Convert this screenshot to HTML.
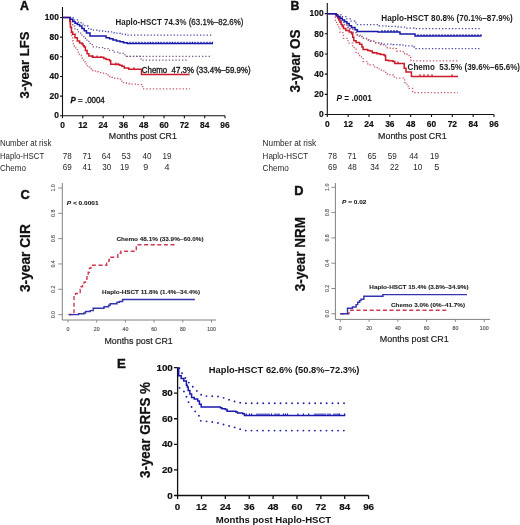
<!DOCTYPE html>
<html><head><meta charset="utf-8"><title>Figure</title>
<style>html,body{margin:0;padding:0;background:#fff;}svg{display:block;}</style>
</head><body>
<svg width="520" height="525" viewBox="0 0 520 525" font-family="'Liberation Sans', Arial, sans-serif">
<rect width="520" height="525" fill="#fff"/>
<text x="20.1" y="9.5" font-size="12.3" font-weight="bold" text-anchor="start" fill="#111" stroke="#111" stroke-width="0.45">A</text>
<text transform="translate(29,98.4) rotate(-90)" x="0" y="0" font-size="13.6" font-weight="bold" fill="#111" textLength="66.9" lengthAdjust="spacingAndGlyphs" stroke="#111" stroke-width="0.25">3-year LFS</text>
<path d="M62.5,7V115.8H225" fill="none" stroke="#111" stroke-width="1.1"/>
<path d="M60,115.8H62.5M60,96.14H62.5M60,76.48H62.5M60,56.82H62.5M60,37.16H62.5M60,17.5H62.5M62.5,115.8V118.3M82.81,115.8V118.3M103.12,115.8V118.3M123.44,115.8V118.3M143.75,115.8V118.3M164.06,115.8V118.3M184.38,115.8V118.3M204.69,115.8V118.3M225,115.8V118.3" fill="none" stroke="#111" stroke-width="1.1"/>
<text x="58.8" y="118.49" font-size="8.4" font-weight="bold" text-anchor="end" fill="#111" stroke="#111" stroke-width="0.2">0</text>
<text x="58.8" y="98.83" font-size="8.4" font-weight="bold" text-anchor="end" fill="#111" stroke="#111" stroke-width="0.2">20</text>
<text x="58.8" y="79.17" font-size="8.4" font-weight="bold" text-anchor="end" fill="#111" stroke="#111" stroke-width="0.2">40</text>
<text x="58.8" y="59.51" font-size="8.4" font-weight="bold" text-anchor="end" fill="#111" stroke="#111" stroke-width="0.2">60</text>
<text x="58.8" y="39.85" font-size="8.4" font-weight="bold" text-anchor="end" fill="#111" stroke="#111" stroke-width="0.2">80</text>
<text x="58.8" y="20.19" font-size="8.4" font-weight="bold" text-anchor="end" fill="#111" stroke="#111" stroke-width="0.2">100</text>
<text x="62.5" y="127.9" font-size="8.4" font-weight="bold" text-anchor="middle" fill="#111" stroke="#111" stroke-width="0.2">0</text>
<text x="82.81" y="127.9" font-size="8.4" font-weight="bold" text-anchor="middle" fill="#111" stroke="#111" stroke-width="0.2">12</text>
<text x="103.12" y="127.9" font-size="8.4" font-weight="bold" text-anchor="middle" fill="#111" stroke="#111" stroke-width="0.2">24</text>
<text x="123.44" y="127.9" font-size="8.4" font-weight="bold" text-anchor="middle" fill="#111" stroke="#111" stroke-width="0.2">36</text>
<text x="143.75" y="127.9" font-size="8.4" font-weight="bold" text-anchor="middle" fill="#111" stroke="#111" stroke-width="0.2">48</text>
<text x="164.06" y="127.9" font-size="8.4" font-weight="bold" text-anchor="middle" fill="#111" stroke="#111" stroke-width="0.2">60</text>
<text x="184.38" y="127.9" font-size="8.4" font-weight="bold" text-anchor="middle" fill="#111" stroke="#111" stroke-width="0.2">72</text>
<text x="204.69" y="127.9" font-size="8.4" font-weight="bold" text-anchor="middle" fill="#111" stroke="#111" stroke-width="0.2">84</text>
<text x="225" y="127.9" font-size="8.4" font-weight="bold" text-anchor="middle" fill="#111" stroke="#111" stroke-width="0.2">96</text>
<text x="108.8" y="138.6" font-size="9.5" font-weight="normal" text-anchor="start" fill="#222" textLength="68.1" lengthAdjust="spacingAndGlyphs" stroke="#222" stroke-width="0.2">Months post CR1</text>
<path d="M69.2,17.5H73.8V19.8H78.5V22.7H83.1V25.6H87.7V28.5H91.1V30.2H96.9V30.8H102.7V31.3H108.4V31.9H114.2V33.1H120V34.2H125.4V35.2H211.5" fill="none" stroke="#4a4aa6" stroke-width="1.25" stroke-dasharray="1.3 2"/>
<path d="M69.2,17.5H70.4V21.5H72.7V26.1H75V29.6H78.5V33.1H81.9V36.5H85.4V40H88.8V43.4H92.3V46.9H98.1V47.5H103.8V48.6H109.6V50.4H114.2V52.1H120V53.3H123.5V54.8H126.5V56.3H211.5" fill="none" stroke="#7a5a8a" stroke-width="1.25" stroke-dasharray="1.3 2"/>
<path d="M126.5,56.3H141V60.2H188" fill="none" stroke="#7a5a8a" stroke-width="1.25" stroke-dasharray="1.3 2"/>
<path d="M69.2,17.5H69.6V21.5H70V25.4H70.6V29.2H71.2V33.1H71.8V37H72.5V40.8H73.4V43.6H74.4V46.5H75.8V49H77.3V51.3H78.2V53.3H79.2V55.2H81.2V58.1H82.6V60H84V61.9H85.4V63.8H86.9V65.8H88.3V67.2H89.8V68.7H91.2V70H92.7V71.2H95.6V71.9H98.5V72.5H101.4V73H104.2V73.5H106.1V74.9H108V76.3H110V76.8H111.9V77.3H114.8V78.3H117.7V79.2H120.6V81H123.5V82.7H126.4V83.4H129.2V84H136.9V84.6H141.7V85H142.7V88.9H190" fill="none" stroke="#c45a6a" stroke-width="1.25" stroke-dasharray="1.3 2"/>
<path d="M62.5,17.5H69.2H69.8V21.5H70.4V27.3H71.5V31.9H72.7V34.2H75V37.7H77.3V41.1H79.6V42.9H81.9V44H83.1V45.8H84.2V46.9H85.4V50.4H87.1V53.8H88.8V56.1H92.3V57.3H103.8V58.4H106.1V59.6H109.6V60.8H110.7V64.2H115V64.6H119.6V65.2H121.9V66.3H124.2V68H128.8V69.2H141.5V74.5H189.6" fill="none" stroke="#cc1a2a" stroke-width="1.5"/>
<path d="M62.5,17.5H69.2H70.4V19.2H72.7V21.5H75V23.3H77.3V24.4H79.6V26.1H81.9V28.5H84.2V30.8H86.5V33.1H90V36H103.8H106.1V37.7H109.6V38.8H113V40H116.5V41.1H120V41.7H123.5V42.7H127.3V43.6H213" fill="none" stroke="#1818a8" stroke-width="1.5"/>
<path d="M130,43.6V41.8M133,43.6V41.8M136,43.6V41.8M139,43.6V41.8M142,43.6V41.8M145,43.6V41.8M148,43.6V41.8M150.5,43.6V41.8M153,43.6V41.8M156,43.6V41.8M158.5,43.6V41.8M161,43.6V41.8M164,43.6V41.8M167,43.6V41.8M170,43.6V41.8M172.5,43.6V41.8M175,43.6V41.8M178,43.6V41.8M181,43.6V41.8M184,43.6V41.8M187,43.6V41.8M190,43.6V41.8M192.5,43.6V41.8M195,43.6V41.8M198,43.6V41.8M201,43.6V41.8M204,43.6V41.8M207,43.6V41.8M210,43.6V41.8M212.5,43.6V41.8" stroke="#1818a8" stroke-width="1.2" fill="none"/>
<path d="M93,57.3V55.3M97,57.5V55.5M101,57.9V55.9M116,64.6V62.6M118,64.9V62.9M134,69.2V67.2" stroke="#cc1a2a" stroke-width="1.2" fill="none"/>
<text x="115.6" y="25.4" font-size="8.3" font-weight="bold" text-anchor="start" fill="#1c1c1c" textLength="127.8" lengthAdjust="spacingAndGlyphs" >Haplo-HSCT 74.3% <tspan font-weight="normal" stroke="#222" stroke-width="0.3">(63.1%–82.6%)</tspan></text>
<text x="141.8" y="73" font-size="8.3" font-weight="normal" text-anchor="start" fill="#1c1c1c" textLength="108.8" lengthAdjust="spacingAndGlyphs" stroke="#1c1c1c" stroke-width="0.35">Chemo&#160; 47.3% (33.4%–59.9%)</text>
<text x="70.6" y="102.9" font-size="8.2" font-weight="normal" text-anchor="start" fill="#111" textLength="34.2" lengthAdjust="spacingAndGlyphs" stroke="#111" stroke-width="0.3"><tspan font-style="italic" font-weight="bold">P</tspan> = .0004</text>
<text x="-0.1" y="146.2" font-size="8.7" font-weight="normal" text-anchor="start" fill="#282828" textLength="51.5" lengthAdjust="spacingAndGlyphs" >Number at risk</text>
<text x="-0.1" y="159" font-size="8.7" font-weight="normal" text-anchor="start" fill="#282828" textLength="44.3" lengthAdjust="spacingAndGlyphs" >Haplo-HSCT</text>
<text x="-0.1" y="171.2" font-size="8.7" font-weight="normal" text-anchor="start" fill="#282828" textLength="26" lengthAdjust="spacingAndGlyphs" >Chemo</text>
<text x="62.7" y="158.5" font-size="8.6" font-weight="normal" text-anchor="start" fill="#282828" textLength="9" lengthAdjust="spacingAndGlyphs" >78</text>
<text x="82.4" y="158.5" font-size="8.6" font-weight="normal" text-anchor="start" fill="#282828" textLength="9" lengthAdjust="spacingAndGlyphs" >71</text>
<text x="101.8" y="158.5" font-size="8.6" font-weight="normal" text-anchor="start" fill="#282828" textLength="9" lengthAdjust="spacingAndGlyphs" >64</text>
<text x="121.7" y="158.5" font-size="8.6" font-weight="normal" text-anchor="start" fill="#282828" textLength="9" lengthAdjust="spacingAndGlyphs" >53</text>
<text x="142.6" y="158.5" font-size="8.6" font-weight="normal" text-anchor="start" fill="#282828" textLength="9" lengthAdjust="spacingAndGlyphs" >40</text>
<text x="162.6" y="158.5" font-size="8.6" font-weight="normal" text-anchor="start" fill="#282828" textLength="9" lengthAdjust="spacingAndGlyphs" >19</text>
<text x="62.7" y="170.4" font-size="8.6" font-weight="normal" text-anchor="start" fill="#282828" textLength="9" lengthAdjust="spacingAndGlyphs" >69</text>
<text x="82.4" y="170.4" font-size="8.6" font-weight="normal" text-anchor="start" fill="#282828" textLength="9" lengthAdjust="spacingAndGlyphs" >41</text>
<text x="102.3" y="170.4" font-size="8.6" font-weight="normal" text-anchor="start" fill="#282828" textLength="9" lengthAdjust="spacingAndGlyphs" >30</text>
<text x="120" y="170.4" font-size="8.6" font-weight="normal" text-anchor="start" fill="#282828" textLength="9" lengthAdjust="spacingAndGlyphs" >19</text>
<text x="143.2" y="170.4" font-size="8.6" font-weight="normal" text-anchor="start" fill="#282828" textLength="5" lengthAdjust="spacingAndGlyphs" >9</text>
<text x="164.5" y="170.4" font-size="8.6" font-weight="normal" text-anchor="start" fill="#282828" textLength="5" lengthAdjust="spacingAndGlyphs" >4</text>
<text x="290.5" y="9.5" font-size="12.3" font-weight="bold" text-anchor="start" fill="#111" stroke="#111" stroke-width="0.45">B</text>
<text transform="translate(300,92.6) rotate(-90)" x="0" y="0" font-size="13.8" font-weight="bold" fill="#111" textLength="63.2" lengthAdjust="spacingAndGlyphs" stroke="#111" stroke-width="0.25">3-year OS</text>
<path d="M327.3,3V114.5H494" fill="none" stroke="#111" stroke-width="1.1"/>
<path d="M324.8,114.5H327.3M324.8,94.33H327.3M324.8,74.16H327.3M324.8,53.99H327.3M324.8,33.82H327.3M324.8,13.65H327.3M327.3,114.5V117M348.14,114.5V117M368.98,114.5V117M389.81,114.5V117M410.65,114.5V117M431.49,114.5V117M452.32,114.5V117M473.16,114.5V117M494,114.5V117" fill="none" stroke="#111" stroke-width="1.1"/>
<text x="323.6" y="117.19" font-size="8.4" font-weight="bold" text-anchor="end" fill="#111" stroke="#111" stroke-width="0.2">0</text>
<text x="323.6" y="97.02" font-size="8.4" font-weight="bold" text-anchor="end" fill="#111" stroke="#111" stroke-width="0.2">20</text>
<text x="323.6" y="76.85" font-size="8.4" font-weight="bold" text-anchor="end" fill="#111" stroke="#111" stroke-width="0.2">40</text>
<text x="323.6" y="56.68" font-size="8.4" font-weight="bold" text-anchor="end" fill="#111" stroke="#111" stroke-width="0.2">60</text>
<text x="323.6" y="36.51" font-size="8.4" font-weight="bold" text-anchor="end" fill="#111" stroke="#111" stroke-width="0.2">80</text>
<text x="323.6" y="16.34" font-size="8.4" font-weight="bold" text-anchor="end" fill="#111" stroke="#111" stroke-width="0.2">100</text>
<text x="327.3" y="127.2" font-size="8.4" font-weight="bold" text-anchor="middle" fill="#111" stroke="#111" stroke-width="0.2">0</text>
<text x="348.14" y="127.2" font-size="8.4" font-weight="bold" text-anchor="middle" fill="#111" stroke="#111" stroke-width="0.2">12</text>
<text x="368.98" y="127.2" font-size="8.4" font-weight="bold" text-anchor="middle" fill="#111" stroke="#111" stroke-width="0.2">24</text>
<text x="389.81" y="127.2" font-size="8.4" font-weight="bold" text-anchor="middle" fill="#111" stroke="#111" stroke-width="0.2">36</text>
<text x="410.65" y="127.2" font-size="8.4" font-weight="bold" text-anchor="middle" fill="#111" stroke="#111" stroke-width="0.2">48</text>
<text x="431.49" y="127.2" font-size="8.4" font-weight="bold" text-anchor="middle" fill="#111" stroke="#111" stroke-width="0.2">60</text>
<text x="452.32" y="127.2" font-size="8.4" font-weight="bold" text-anchor="middle" fill="#111" stroke="#111" stroke-width="0.2">72</text>
<text x="473.16" y="127.2" font-size="8.4" font-weight="bold" text-anchor="middle" fill="#111" stroke="#111" stroke-width="0.2">84</text>
<text x="494" y="127.2" font-size="8.4" font-weight="bold" text-anchor="middle" fill="#111" stroke="#111" stroke-width="0.2">96</text>
<text x="378.1" y="138.6" font-size="9.5" font-weight="normal" text-anchor="start" fill="#222" textLength="68.5" lengthAdjust="spacingAndGlyphs" stroke="#222" stroke-width="0.2">Months post CR1</text>
<path d="M334.8,13.65H337.7V14.8H341.1V16.5H345.8V18.8H350.4V21.1H355V22.9H357.3V24.6H376.9H379.2V25.8H388V26.4H398V27.1H405.8V28H414V28.5H480.2" fill="none" stroke="#4a4aa6" stroke-width="1.25" stroke-dasharray="1.3 2"/>
<path d="M334.8,13.65H336.5V17.7H340V21.1H343.5V25.2H348V29.2H352.7V32.7H357.3V36.1H361.9V38.4H366.5V40.2H370V41.2H375.8V42.9H381.5V44H393V44.6H400V45.2H404.6V45.8H413.8V46.9H416V48.5H480.2" fill="none" stroke="#4a4aa6" stroke-width="1.25" stroke-dasharray="1.3 2"/>
<path d="M334.8,13.65H337.7V16.5H341.1V21.1H344.6V25.2H348V28.6H352.7V32.1H357.3V35H361.9V38.4H366.5V39.6H371.1V41.3H375.8V43H380.4V44.8H385V45.8H387.3V48H393V48.7H396.5V51H402.3V51.5H404.6V53.8H407V55.5H409.2V57.3H411V60.8H458" fill="none" stroke="#c45a6a" stroke-width="1.25" stroke-dasharray="1.3 2"/>
<path d="M334.8,13.65H335.4V22.3H337.7V26.9H340V32.7H343.5V38.4H348V43H352.7V47.7H356.1V53.4H359.6V56.9H363.1V61.5H367.7V63.8H370V64.8H374.6V67.7H379.2V70H383.8V72.3H387.3V74.6H393V75.2H394.2V78H403.5V78.6H404.6V82.7H406.9V86.1H409.2V88.4H412.7V92.5H458" fill="none" stroke="#c45a6a" stroke-width="1.25" stroke-dasharray="1.3 2"/>
<path d="M327.3,13.65H334.8H336.5V16H337.7V18H338.8V20H340V22.3H341.1V24.6H342.3V26.6H343.5V28.6H345.8V30.4H349.2V32.1H351.5V33.8H352.7V37.3H353.8V40.8H356.1V42.5H359.6V44.2H361.9V47.1H363.1V49.4H367.7V50.6H370V51H372.3V52.7H377V53.8H380.4V54.4H383.8V55H385V56H385.6V60.2H388.5V60.8H393V61.5H394.8V63.6H404.2V68.3H406V72H411.4V76.4H458" fill="none" stroke="#cc1a2a" stroke-width="1.5"/>
<path d="M327.3,13.65H334.8H336V15H337.7V16.5H340V18.3H342.3V20H344.6V21.7H346.9V23.5H349.2V25.8H351.5V27.5H355V29.8H357.3V31.5H376.9H378V31.9H400V33.9H415V36H481.5" fill="none" stroke="#1818a8" stroke-width="1.5"/>
<path d="M382,31.9V30.1M385,31.9V30.1M388,31.9V30.1M391,31.9V30.1M394,31.9V30.1M397,31.9V30.1M418,36V34.2M421,36V34.2M424,36V34.2M427,36V34.2M430,36V34.2M433,36V34.2M436,36V34.2M439,36V34.2M442,36V34.2M445,36V34.2M448,36V34.2M451,36V34.2M454,36V34.2M457,36V34.2M460,36V34.2M463,36V34.2M466,36V34.2M469,36V34.2M472,36V34.2M475,36V34.2M478,36V34.2M481,36V34.2" stroke="#1818a8" stroke-width="1.2" fill="none"/>
<path d="M420,76.3V74.3M424,76.3V74.3M428,76.3V74.3M432,76.3V74.3M452,76.3V74.3M374,53.8V51.8M398,63.6V61.6" stroke="#cc1a2a" stroke-width="1.2" fill="none"/>
<text x="381.3" y="21.3" font-size="8.2" font-weight="bold" text-anchor="start" fill="#1c1c1c" textLength="131.4" lengthAdjust="spacingAndGlyphs" >Haplo-HSCT 80.8% (70.1%–87.9%)</text>
<text x="407.6" y="69.8" font-size="8.2" font-weight="bold" text-anchor="start" fill="#1c1c1c" textLength="112.4" lengthAdjust="spacingAndGlyphs" >Chemo&#160; 53.5% (39.6%–65.6%)</text>
<text x="336.6" y="101" font-size="8.4" font-weight="bold" text-anchor="start" fill="#111" textLength="35.3" lengthAdjust="spacingAndGlyphs" ><tspan font-style="italic">P</tspan> = .0001</text>
<text x="262.6" y="145.6" font-size="8.7" font-weight="normal" text-anchor="start" fill="#282828" textLength="53.6" lengthAdjust="spacingAndGlyphs" >Number at risk</text>
<text x="262.6" y="158.5" font-size="8.7" font-weight="normal" text-anchor="start" fill="#282828" textLength="45.5" lengthAdjust="spacingAndGlyphs" >Haplo-HSCT</text>
<text x="262.6" y="170.6" font-size="8.7" font-weight="normal" text-anchor="start" fill="#282828" textLength="26.3" lengthAdjust="spacingAndGlyphs" >Chemo</text>
<text x="327.9" y="158.5" font-size="8.6" font-weight="normal" text-anchor="start" fill="#282828" textLength="9" lengthAdjust="spacingAndGlyphs" >78</text>
<text x="347.4" y="158.5" font-size="8.6" font-weight="normal" text-anchor="start" fill="#282828" textLength="9" lengthAdjust="spacingAndGlyphs" >71</text>
<text x="367.6" y="158.5" font-size="8.6" font-weight="normal" text-anchor="start" fill="#282828" textLength="9" lengthAdjust="spacingAndGlyphs" >65</text>
<text x="387.8" y="158.5" font-size="8.6" font-weight="normal" text-anchor="start" fill="#282828" textLength="9" lengthAdjust="spacingAndGlyphs" >59</text>
<text x="409.3" y="158.5" font-size="8.6" font-weight="normal" text-anchor="start" fill="#282828" textLength="9" lengthAdjust="spacingAndGlyphs" >44</text>
<text x="429.9" y="158.5" font-size="8.6" font-weight="normal" text-anchor="start" fill="#282828" textLength="9" lengthAdjust="spacingAndGlyphs" >19</text>
<text x="327.9" y="170.4" font-size="8.6" font-weight="normal" text-anchor="start" fill="#282828" textLength="9" lengthAdjust="spacingAndGlyphs" >69</text>
<text x="347.8" y="170.4" font-size="8.6" font-weight="normal" text-anchor="start" fill="#282828" textLength="9" lengthAdjust="spacingAndGlyphs" >48</text>
<text x="370.3" y="170.4" font-size="8.6" font-weight="normal" text-anchor="start" fill="#282828" textLength="9" lengthAdjust="spacingAndGlyphs" >34</text>
<text x="390.1" y="170.4" font-size="8.6" font-weight="normal" text-anchor="start" fill="#282828" textLength="9" lengthAdjust="spacingAndGlyphs" >22</text>
<text x="413.2" y="170.4" font-size="8.6" font-weight="normal" text-anchor="start" fill="#282828" textLength="9" lengthAdjust="spacingAndGlyphs" >10</text>
<text x="434.2" y="170.4" font-size="8.6" font-weight="normal" text-anchor="start" fill="#282828" textLength="5" lengthAdjust="spacingAndGlyphs" >5</text>
<text x="20.6" y="199" font-size="12.8" font-weight="bold" text-anchor="start" fill="#111" stroke="#111" stroke-width="0.45">C</text>
<text transform="translate(29.6,292) rotate(-90)" x="0" y="0" font-size="13.8" font-weight="bold" fill="#111" textLength="67.8" lengthAdjust="spacingAndGlyphs" stroke="#111" stroke-width="0.25">3-year CIR</text>
<path d="M62.3,183V320H216" fill="none" stroke="#808080" stroke-width="1"/>
<path d="M58.3,314.6H62.3M58.3,289.28H62.3M58.3,263.96H62.3M58.3,238.64H62.3M58.3,213.32H62.3M58.3,188H62.3M68,320V322.5M96.7,320V322.5M125.4,320V322.5M154.1,320V322.5M182.8,320V322.5M211.5,320V322.5" fill="none" stroke="#808080" stroke-width="0.9"/>
<text transform="translate(55.4,314.6) rotate(-90)" text-anchor="middle" font-size="5.2" fill="#555" stroke="#555" stroke-width="0.15">0.0</text>
<text transform="translate(55.4,289.28) rotate(-90)" text-anchor="middle" font-size="5.2" fill="#555" stroke="#555" stroke-width="0.15">0.2</text>
<text transform="translate(55.4,263.96) rotate(-90)" text-anchor="middle" font-size="5.2" fill="#555" stroke="#555" stroke-width="0.15">0.4</text>
<text transform="translate(55.4,238.64) rotate(-90)" text-anchor="middle" font-size="5.2" fill="#555" stroke="#555" stroke-width="0.15">0.6</text>
<text transform="translate(55.4,213.32) rotate(-90)" text-anchor="middle" font-size="5.2" fill="#555" stroke="#555" stroke-width="0.15">0.8</text>
<text transform="translate(55.4,188) rotate(-90)" text-anchor="middle" font-size="5.2" fill="#555" stroke="#555" stroke-width="0.15">1.0</text>
<text x="68" y="330.6" font-size="5.2" font-weight="normal" text-anchor="middle" fill="#555" stroke="#555" stroke-width="0.15">0</text>
<text x="96.7" y="330.6" font-size="5.2" font-weight="normal" text-anchor="middle" fill="#555" stroke="#555" stroke-width="0.15">20</text>
<text x="125.4" y="330.6" font-size="5.2" font-weight="normal" text-anchor="middle" fill="#555" stroke="#555" stroke-width="0.15">40</text>
<text x="154.1" y="330.6" font-size="5.2" font-weight="normal" text-anchor="middle" fill="#555" stroke="#555" stroke-width="0.15">60</text>
<text x="182.8" y="330.6" font-size="5.2" font-weight="normal" text-anchor="middle" fill="#555" stroke="#555" stroke-width="0.15">80</text>
<text x="211.5" y="330.6" font-size="5.2" font-weight="normal" text-anchor="middle" fill="#555" stroke="#555" stroke-width="0.15">100</text>
<text x="104.5" y="344.2" font-size="9.7" font-weight="normal" text-anchor="start" fill="#222" textLength="68.2" lengthAdjust="spacingAndGlyphs" stroke="#222" stroke-width="0.2">Months post CR1</text>
<text x="66.7" y="204.6" font-size="6.2" font-weight="bold" text-anchor="start" fill="#111" textLength="31.9" lengthAdjust="spacingAndGlyphs" stroke="#1c1c1c" stroke-width="0.08"><tspan font-style="italic">P</tspan> &lt; 0.0001</text>
<path d="M68.6,314.5H74V296H75.5V293.5H79.4V292.5H80.2V289.5H81V286.8H82.5V284.5H84V282.2H85.5V279.1H87V276H88.2V272.2H89.4V268.3H90.9V265.2H105.5H106.7V263.3H107.8V261.4H109V259.5H110.2V257.2H117H117.8V253.2H120.9V251.2H135.5H136.3V244.8H175.4" fill="none" stroke="#cc3a55" stroke-width="1.4" stroke-dasharray="4 2.6"/>
<path d="M68.6,314.6H78.6V313.7H84V313H85.5V311.4H90.2V310.6H93.2V308.3H102.5H104V306.8H108.6V305.2H110.2V303.7H114.8H117V302.2H119.4V301.4H122.5V299.8H123.2V299.4H194.8" fill="none" stroke="#3434b0" stroke-width="1.45"/>
<text x="116.4" y="240.7" font-size="6.2" font-weight="bold" text-anchor="start" fill="#1c1c1c" textLength="87.2" lengthAdjust="spacingAndGlyphs" stroke="#1c1c1c" stroke-width="0.08">Chemo 48.1% (33.9%–60.0%)</text>
<text x="102.1" y="294.1" font-size="6.2" font-weight="bold" text-anchor="start" fill="#1c1c1c" textLength="97.9" lengthAdjust="spacingAndGlyphs" stroke="#1c1c1c" stroke-width="0.08">Haplo-HSCT 11.8% (1.4%–34.4%)</text>
<text x="294.2" y="195" font-size="12.8" font-weight="bold" text-anchor="start" fill="#111" stroke="#111" stroke-width="0.45">D</text>
<text transform="translate(304.9,291.2) rotate(-90)" x="0" y="0" font-size="13.8" font-weight="bold" fill="#111" textLength="74.1" lengthAdjust="spacingAndGlyphs" stroke="#111" stroke-width="0.25">3-year NRM</text>
<path d="M335.4,183V319.4H490" fill="none" stroke="#808080" stroke-width="1"/>
<path d="M331.4,313.8H335.4M331.4,288.5H335.4M331.4,263.2H335.4M331.4,237.9H335.4M331.4,212.6H335.4M331.4,187.3H335.4M340.3,319.4V321.9M369.08,319.4V321.9M397.86,319.4V321.9M426.64,319.4V321.9M455.42,319.4V321.9M484.2,319.4V321.9" fill="none" stroke="#808080" stroke-width="0.9"/>
<text transform="translate(328.5,313.8) rotate(-90)" text-anchor="middle" font-size="5.2" fill="#555" stroke="#555" stroke-width="0.15">0.0</text>
<text transform="translate(328.5,288.5) rotate(-90)" text-anchor="middle" font-size="5.2" fill="#555" stroke="#555" stroke-width="0.15">0.2</text>
<text transform="translate(328.5,263.2) rotate(-90)" text-anchor="middle" font-size="5.2" fill="#555" stroke="#555" stroke-width="0.15">0.4</text>
<text transform="translate(328.5,237.9) rotate(-90)" text-anchor="middle" font-size="5.2" fill="#555" stroke="#555" stroke-width="0.15">0.6</text>
<text transform="translate(328.5,212.6) rotate(-90)" text-anchor="middle" font-size="5.2" fill="#555" stroke="#555" stroke-width="0.15">0.8</text>
<text transform="translate(328.5,187.3) rotate(-90)" text-anchor="middle" font-size="5.2" fill="#555" stroke="#555" stroke-width="0.15">1.0</text>
<text x="340.3" y="330" font-size="5.2" font-weight="normal" text-anchor="middle" fill="#555" stroke="#555" stroke-width="0.15">0</text>
<text x="369.08" y="330" font-size="5.2" font-weight="normal" text-anchor="middle" fill="#555" stroke="#555" stroke-width="0.15">20</text>
<text x="397.86" y="330" font-size="5.2" font-weight="normal" text-anchor="middle" fill="#555" stroke="#555" stroke-width="0.15">40</text>
<text x="426.64" y="330" font-size="5.2" font-weight="normal" text-anchor="middle" fill="#555" stroke="#555" stroke-width="0.15">60</text>
<text x="455.42" y="330" font-size="5.2" font-weight="normal" text-anchor="middle" fill="#555" stroke="#555" stroke-width="0.15">80</text>
<text x="484.2" y="330" font-size="5.2" font-weight="normal" text-anchor="middle" fill="#555" stroke="#555" stroke-width="0.15">100</text>
<text x="379.8" y="342.2" font-size="9.7" font-weight="normal" text-anchor="start" fill="#222" textLength="68.9" lengthAdjust="spacingAndGlyphs" stroke="#222" stroke-width="0.2">Months post CR1</text>
<text x="342.1" y="203.5" font-size="6.2" font-weight="bold" text-anchor="start" fill="#111" textLength="24.3" lengthAdjust="spacingAndGlyphs" stroke="#1c1c1c" stroke-width="0.08"><tspan font-style="italic">P</tspan> = 0.02</text>
<path d="M340.3,313.8H349V310.2H447" fill="none" stroke="#cc3a55" stroke-width="1.4" stroke-dasharray="4 2.6"/>
<path d="M340.3,313.8H347.5V308.3H351.5H352.5V307H355H356.1V304.6H357.7V302.3H359.6V300.6H361V299.3H363.8V296.2H382.3H382.9V294.6H467" fill="none" stroke="#3434b0" stroke-width="1.45"/>
<text x="369.3" y="288.6" font-size="6.2" font-weight="bold" text-anchor="start" fill="#1c1c1c" textLength="99.3" lengthAdjust="spacingAndGlyphs" stroke="#1c1c1c" stroke-width="0.08">Haplo-HSCT 15.4% (3.8%–34.9%)</text>
<text x="391" y="307.1" font-size="6.2" font-weight="bold" text-anchor="start" fill="#1c1c1c" textLength="74" lengthAdjust="spacingAndGlyphs" stroke="#1c1c1c" stroke-width="0.08">Chemo 3.0% (0%–41.7%)</text>
<text x="117" y="368" font-size="13.2" font-weight="bold" text-anchor="start" fill="#111" stroke="#111" stroke-width="0.45">E</text>
<text transform="translate(149.6,478) rotate(-90)" x="0" y="0" font-size="14.4" font-weight="bold" fill="#111" textLength="96" lengthAdjust="spacingAndGlyphs" stroke="#111" stroke-width="0.25">3-year GRFS %</text>
<path d="M177.6,367.6V495.5H368.6" fill="none" stroke="#111" stroke-width="1.3"/>
<path d="M174,495.5H177.6M174,469.92H177.6M174,444.34H177.6M174,418.76H177.6M174,393.18H177.6M174,367.6H177.6M177.6,495.5V499.1M201.47,495.5V499.1M225.35,495.5V499.1M249.23,495.5V499.1M273.1,495.5V499.1M296.98,495.5V499.1M320.85,495.5V499.1M344.73,495.5V499.1M368.6,495.5V499.1" fill="none" stroke="#111" stroke-width="1.3"/>
<text x="172.8" y="498.64" font-size="9.8" font-weight="bold" text-anchor="end" fill="#111" stroke="#111" stroke-width="0.2">0</text>
<text x="172.8" y="473.06" font-size="9.8" font-weight="bold" text-anchor="end" fill="#111" stroke="#111" stroke-width="0.2">20</text>
<text x="172.8" y="447.48" font-size="9.8" font-weight="bold" text-anchor="end" fill="#111" stroke="#111" stroke-width="0.2">40</text>
<text x="172.8" y="421.9" font-size="9.8" font-weight="bold" text-anchor="end" fill="#111" stroke="#111" stroke-width="0.2">60</text>
<text x="172.8" y="396.32" font-size="9.8" font-weight="bold" text-anchor="end" fill="#111" stroke="#111" stroke-width="0.2">80</text>
<text x="172.8" y="370.74" font-size="9.8" font-weight="bold" text-anchor="end" fill="#111" stroke="#111" stroke-width="0.2">100</text>
<text x="177.6" y="510.2" font-size="9.8" font-weight="bold" text-anchor="middle" fill="#111" stroke="#111" stroke-width="0.2">0</text>
<text x="201.47" y="510.2" font-size="9.8" font-weight="bold" text-anchor="middle" fill="#111" stroke="#111" stroke-width="0.2">12</text>
<text x="225.35" y="510.2" font-size="9.8" font-weight="bold" text-anchor="middle" fill="#111" stroke="#111" stroke-width="0.2">24</text>
<text x="249.23" y="510.2" font-size="9.8" font-weight="bold" text-anchor="middle" fill="#111" stroke="#111" stroke-width="0.2">36</text>
<text x="273.1" y="510.2" font-size="9.8" font-weight="bold" text-anchor="middle" fill="#111" stroke="#111" stroke-width="0.2">48</text>
<text x="296.98" y="510.2" font-size="9.8" font-weight="bold" text-anchor="middle" fill="#111" stroke="#111" stroke-width="0.2">60</text>
<text x="320.85" y="510.2" font-size="9.8" font-weight="bold" text-anchor="middle" fill="#111" stroke="#111" stroke-width="0.2">72</text>
<text x="344.73" y="510.2" font-size="9.8" font-weight="bold" text-anchor="middle" fill="#111" stroke="#111" stroke-width="0.2">84</text>
<text x="368.6" y="510.2" font-size="9.8" font-weight="bold" text-anchor="middle" fill="#111" stroke="#111" stroke-width="0.2">96</text>
<text x="215.8" y="522.6" font-size="9.6" font-weight="bold" text-anchor="start" fill="#111" textLength="115.4" lengthAdjust="spacingAndGlyphs" >Months post Haplo-HSCT</text>
<path d="M179.3,368.2 L181.5,372.5 L183.8,376 L186.6,379.5 L189.5,383.5 L191.5,385.5 L193.5,387.5 L196.3,390.4 L199.2,393.3 L203,396 L218.5,396.5 L225.4,398.3 L232.3,400.9 L239.2,402.6 L244.4,403.3 L344.4,403.3" fill="none" stroke="#2222a6" stroke-width="1.9" stroke-linecap="round" stroke-dasharray="0 5.77"/>
<path d="M179.5,387.9 L183.8,391.3 L186.4,396.5 L189,403.5 L191.6,407 L194.2,410.4 L198.6,414.7 L200.3,420.8 L209.8,421.6 L220.2,423.4 L225.4,425.1 L235.8,427.7 L244.4,430.6 L344.4,430.6" fill="none" stroke="#2222a6" stroke-width="1.9" stroke-linecap="round" stroke-dasharray="0 5.77"/>
<path d="M177.8,368H178.7V375.8H181.2V378.4H183.8V381H186.4V385.3H187.3V387H188.2V390.5H189.9V393.9H191.6V397.4H194.2V399.1H197.7V400.9H199.4V404.3H201.2V407H218.5H220.2V407.8H221.9V408.7H225.4V409.5H227.1V411.2H235.8V412.1H237.5V413H242.7V413.8H244.4V415.6H345.3" fill="none" stroke="#1a1aae" stroke-width="1.5"/>
<path d="M246.3,415.6V413.4M249.5,415.6V413.4M251.6,415.6V413.4M257,415.6V413.4M259,415.6V413.4M261,415.6V413.4M263,415.6V413.4M265,415.6V413.4M267,415.6V413.4M269,415.6V413.4M271.5,415.6V413.4M275,415.6V413.4M277,415.6V413.4M279,415.6V413.4M283.5,415.6V413.4M285.5,415.6V413.4M287.5,415.6V413.4M298,415.6V413.4M303.4,415.6V413.4M308.7,415.6V413.4M315,415.6V413.4M317,415.6V413.4M319,415.6V413.4M321,415.6V413.4M323,415.6V413.4M325,415.6V413.4M328,415.6V413.4M330,415.6V413.4M334,415.6V413.4M336,415.6V413.4M338,415.6V413.4M339.5,415.6V413.4M344.6,415.6V413.4" stroke="#1a1aae" stroke-width="1.2" fill="none"/>
<text x="208.8" y="373" font-size="9.2" font-weight="bold" text-anchor="start" fill="#111" textLength="150.6" lengthAdjust="spacingAndGlyphs" >Haplo-HSCT 62.6% (50.8%–72.3%)</text>
</svg>
</body></html>
